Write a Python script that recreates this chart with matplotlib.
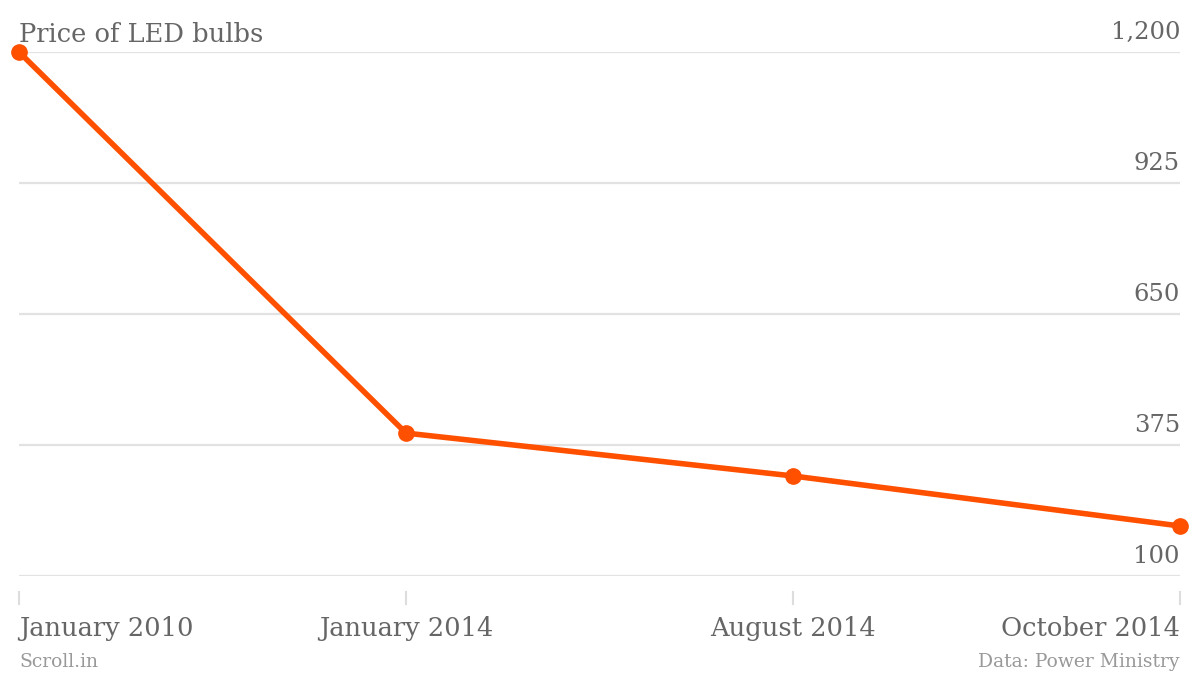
import matplotlib.pyplot as plt
import matplotlib.transforms as mtransforms

# data
periods = ["January 2010", "January 2014", "August 2014", "October 2014"]
prices = [1200, 400, 310, 205]
y_ticks = [100, 375, 650, 925, 1200]
y_labels = ["100", "375", "650", "925", "1,200"]

plt.rcParams['font.family'] = ['DejaVu Serif']

fig = plt.figure(figsize=(12, 6.76), dpi=100)
ax = fig.add_axes([19 / 1200, 1 - 576 / 676, (1180 - 19) / 1200, (576 - 52) / 676])

x = list(range(len(periods)))
ax.plot(x, prices, color="#ff5000", linewidth=4, marker="o", markersize=11,
        solid_capstyle="round", clip_on=False, zorder=3)

ax.set_xlim(0, len(periods) - 1)
ax.set_ylim(100, 1200)
ax.set_yticks(y_ticks)
ax.set_yticklabels([])
ax.tick_params(axis="y", length=0)
ax.grid(axis="y", color="#e2e2e2", linewidth=1.6)
ax.set_axisbelow(True)
for s in ax.spines.values():
    s.set_visible(False)

# y labels sit above their gridline, right aligned
blend = mtransforms.blended_transform_factory(ax.transAxes, ax.transData)
for v, lab in zip(y_ticks, y_labels):
    ax.annotate(lab, xy=(1, v), xycoords=blend, xytext=(0, 6), textcoords="offset points",
                ha="right", va="bottom", fontsize=17.5, color="#666666")

# x ticks: small marks below the plot, labels aligned to the edges
ax.set_xticks(x)
ax.set_xticklabels([])
ax.tick_params(axis="x", length=0)
xblend = mtransforms.blended_transform_factory(ax.transData, ax.transAxes)
aligns = ["left", "center", "center", "right"]
for xi, lab, ha in zip(x, periods, aligns):
    ax.plot([xi, xi], [-0.03, -0.053], transform=xblend, color="#dddddd",
            linewidth=1.5, clip_on=False)
    ax.annotate(lab, xy=(xi, 0), xycoords=xblend, xytext=(0, -29), textcoords="offset points",
                ha=ha, va="top", fontsize=18.5, color="#666666")

fig.text(19 / 1200, 1 - 42 / 676, "Price of LED bulbs", ha="left", va="baseline",
         fontsize=18.5, color="#666666")
fig.text(19 / 1200, 1 - 667 / 676, "Scroll.in", ha="left", va="baseline",
         fontsize=13.5, color="#999999")
fig.text(1180 / 1200, 1 - 667 / 676, "Data: Power Ministry", ha="right", va="baseline",
         fontsize=13.5, color="#999999")

fig.savefig("out.png", dpi=100)
